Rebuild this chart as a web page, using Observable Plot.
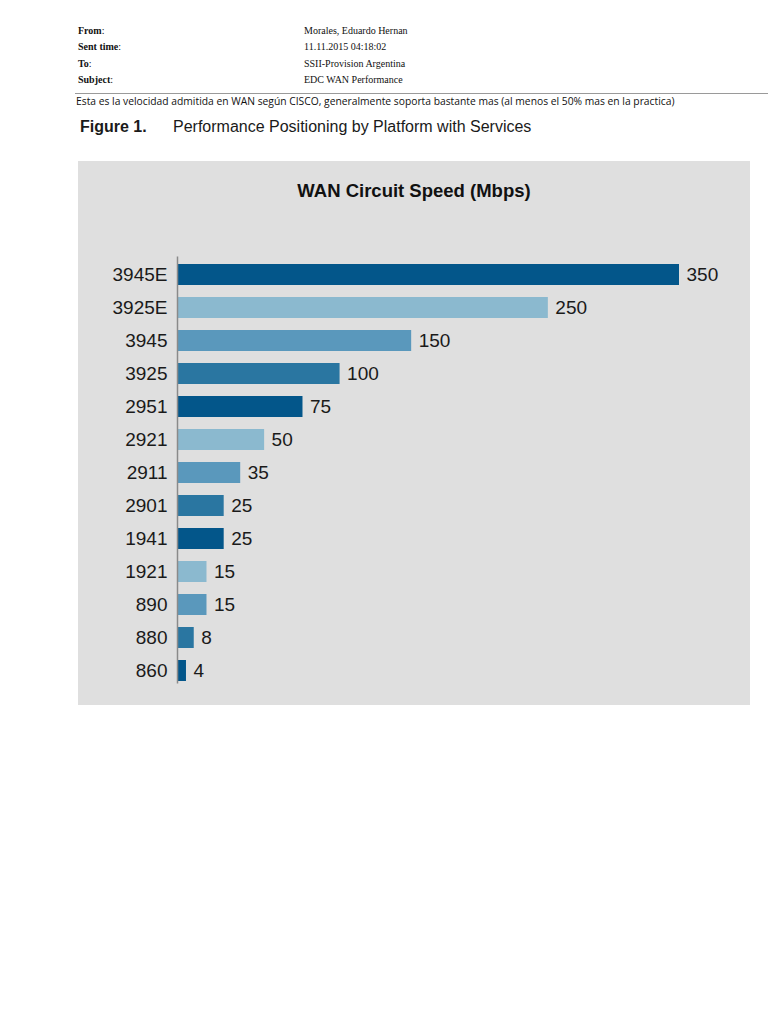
<!DOCTYPE html>
<html>
<head>
<meta charset="utf-8">
<script src="https://cdn.jsdelivr.net/npm/d3@7"></script>
<script src="https://cdn.jsdelivr.net/npm/@observablehq/plot@0.6"></script>
<style>
  html, body { margin: 0; padding: 0; background: #fff; width: 768px; height: 1024px; overflow: hidden; }
  .hdr { position: absolute; font-family: "Liberation Serif", "DejaVu Serif", serif; font-size: 10px; color: #111; line-height: 16px; }
  .hdr b { font-weight: bold; }
  #rule { position: absolute; left: 75px; top: 93px; width: 696px; height: 0; border-top: 1px solid #9a9a9a; }
  #note { position: absolute; left: 76px; top: 93px; font-family: "Open Sans", "Noto Sans", sans-serif; font-size: 10.3px; color: #111; line-height: 16px; white-space: nowrap; }
  #fig { position: absolute; left: 80px; top: 118px; font-family: "Liberation Sans", Arial, sans-serif; font-size: 16px; color: #1a1a1a; white-space: nowrap; }
  #fig b { display: inline-block; width: 93px; }
  #chart { position: absolute; left: 78px; top: 161px; }
  #ctitle { position: absolute; left: 0; width: 828px; top: 180px; text-align: center; font-family: "Liberation Sans", Arial, sans-serif; font-weight: bold; font-size: 18.5px; color: #111; }
</style>
</head>
<body>
<div class="hdr" style="left:78px; top:23px;"><b>From</b>:</div>
<div class="hdr" style="left:78px; top:39px;"><b>Sent time</b>:</div>
<div class="hdr" style="left:78px; top:56px;"><b>To</b>:</div>
<div class="hdr" style="left:78px; top:72px;"><b>Subject</b>:</div>
<div class="hdr" style="left:304px; top:23px;">Morales, Eduardo Hernan</div>
<div class="hdr" style="left:304px; top:39px;">11.11.2015 04:18:02</div>
<div class="hdr" style="left:304px; top:56px;">SSII-Provision Argentina</div>
<div class="hdr" style="left:304px; top:72px;">EDC WAN Performance</div>
<div id="rule"></div>
<div id="note">Esta es la velocidad admitida en WAN según CISCO, generalmente soporta bastante mas (al menos el 50% mas en la practica)</div>
<div id="fig"><b>Figure 1.</b>Performance Positioning by Platform with Services</div>
<div id="chart"></div>
<div id="ctitle">WAN Circuit Speed (Mbps)</div>
<script>
const platforms = ["3945E", "3925E", "3945", "3925", "2951", "2921", "2911", "2901", "1941", "1921", "890", "880", "860"];
const speeds = [350, 250, 150, 100, 75, 50, 35, 25, 25, 15, 15, 8, 4];

const palette = ["#03568a", "#8bb9cf", "#5a98bc", "#2a76a1"];
const rows = platforms.map((p, i) => ({platform: p, speed: speeds[i], shade: palette[i % 4]}));

const chart = Plot.plot({
  width: 672,
  height: 544,
  marginLeft: 99,
  marginRight: 71,
  marginTop: 89.6,
  marginBottom: 10.5,
  style: {background: "#dfdfdf", fontFamily: "'Liberation Sans', Arial, sans-serif", fontSize: "19px", color: "#1a1a1a"},
  x: {type: "pow", exponent: 0.9, domain: [0, 350], axis: null},
  y: {domain: platforms, padding: 0.35, tickSize: 0, tickPadding: 10, label: null},
  color: {type: "identity"},
  marks: [
    Plot.barX(rows, {x: "speed", y: "platform", fill: "shade"}),
    Plot.ruleX([0], {stroke: "#8a8a8a", strokeWidth: 1.5, insetTop: 6, insetBottom: 11}),
    Plot.text(rows, {x: "speed", y: "platform", text: d => String(d.speed), dx: 7, textAnchor: "start", fill: "#1a1a1a", fontSize: 19})
  ]
});
document.getElementById("chart").appendChild(chart);
</script>
</body>
</html>
